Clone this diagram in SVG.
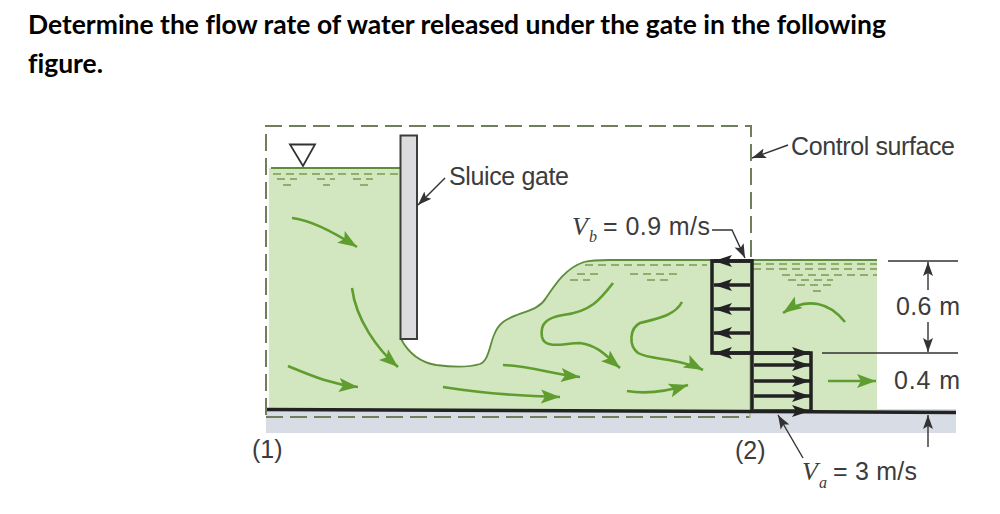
<svg xmlns="http://www.w3.org/2000/svg" width="1000" height="514" viewBox="0 0 1000 514">
<style>
.title{font:bold 26px Lato,"Liberation Sans",sans-serif;fill:#000;font-variant-ligatures:none}
.lab{font:25px "Liberation Sans",Arial,sans-serif;fill:#3c3c3c}
.it{font:italic 26px "Liberation Serif",serif;fill:#3c3c3c}
.sub{font:italic 16px "Liberation Serif",serif;fill:#3c3c3c}
.cs{fill:none;stroke:#6f7f5c;stroke-width:2;stroke-dasharray:17 7}
.flow{fill:none;stroke:#5f9d2e;stroke-width:2.6;marker-end:url(#g)}
.rip{fill:none;stroke:#7c9a52;stroke-width:1.400;stroke-dasharray:8 5}
.prof{fill:none;stroke:#222;stroke-width:3.500}
.pa{fill:none;stroke:#222;stroke-width:3.500;marker-end:url(#k)}
.thin{fill:none;stroke:#333;stroke-width:1.500}
.lead{fill:none;stroke:#333;stroke-width:1.400;marker-end:url(#l)}
</style>
<defs>
<marker id="g" markerUnits="userSpaceOnUse" markerWidth="22" markerHeight="16" refX="19" refY="8" orient="auto"><path d="M0 1L19 8L0 15L4 8Z" fill="#5f9d2e"/></marker>
<marker id="k" markerUnits="userSpaceOnUse" markerWidth="20" markerHeight="14" refX="18" refY="7" orient="auto"><path d="M0 1L18 7L0 13L4 7Z" fill="#222"/></marker>
<marker id="l" markerUnits="userSpaceOnUse" markerWidth="16" markerHeight="12" refX="14" refY="6" orient="auto"><path d="M0 1L14 6L0 11L3 6Z" fill="#333"/></marker>
</defs>
<rect width="1000" height="514" fill="#fff"/>
<text class="title" x="28" y="34" textLength="858" lengthAdjust="spacingAndGlyphs">Determine the flow rate of water released under the gate in the following</text>
<text class="title" x="28" y="73" textLength="75" lengthAdjust="spacingAndGlyphs">figure.</text>
<g id="ground"><rect x="266" y="409" width="690" height="24" fill="#d8dde5"/></g>
<g id="water">
<path d="M269 168H401V339C408 352 418 362 436 365C452 367 470 367 480 364C489 360 490 344 494 335C499 322 507 319 517 315C530 310 540 308 546 298C556 283 566 268 584 262C592 260 600 260 610 260H877V411L269 409Z" fill="#d2e6c0"/>
<path d="M271 168H401M401 339C408 352 418 362 436 365C452 367 470 367 480 364C489 360 490 344 494 335C499 322 507 319 517 315C530 310 540 308 546 298C556 283 566 268 584 262C592 260 600 260 610 260H877" fill="none" stroke="#5d8c3a" stroke-width="1.800"/>
<path class="rip" d="M273 174H398M277 179H297M317 179H335M353 179H373M283 185H292M323 185H330M360 185H368M585 265H707M577 274H603M630 274H677M570 280H590M647 280H668M753 264H877M753 269H877M782 275H877M788 280H833M797 285H833M813 291H823"/>
</g>
<g id="sluice-gate"><rect x="400.500" y="135.500" width="16.500" height="203.500" fill="#dcdcdf" stroke="#3a3f3a" stroke-width="2"/></g>
<g id="free-surface-symbol"><path d="M290 144.500H315L303 166Z" fill="#fff" stroke="#333" stroke-width="1.800"/></g>
<g id="control-surface"><path class="cs" d="M266 415V126H751V260"/><path class="cs" d="M266 417H750"/><path d="M750 350V418" fill="none" stroke="#a8c77c" stroke-width="1.500"/></g>
<g id="connectors">
<path class="flow" d="M292 218C312 220 335 233 357 247"/>
<path class="flow" d="M352 288C356 320 378 350 398 367"/>
<path class="flow" d="M288 366C310 375 330 384 358 387"/>
<path class="flow" d="M443 387C480 393 520 396 560 397"/>
<path class="flow" d="M503 365C530 366 552 374 580 377"/>
<path class="flow" d="M613 283C600 300 590 312 563 315C545 318 540 325 542 337C545 350 565 343 580 343C600 346 608 358 620 368"/>
<path class="flow" d="M682 302C675 315 660 318 640 323C630 328 628 345 638 353C650 360 680 358 703 370"/>
<path class="flow" d="M627 391C645 394 665 392 688 385"/>
<path class="flow" d="M845 322C830 303 808 296 783 313"/>
<path class="flow" d="M828 381H876"/>
<path class="prof" d="M752 261H712V353H752M752 259V411M752 353H811V411"/>
<path class="prof" d="M267 409.500L752 411.500L956 412.500"/>
<path class="pa" d="M750 261H714"/><path class="pa" d="M750 285H714"/><path class="pa" d="M750 309H714"/><path class="pa" d="M750 333H714"/><path class="pa" d="M750 353H714"/>
<path class="pa" d="M754 353H810"/><path class="pa" d="M754 365H810"/><path class="pa" d="M754 381H810"/><path class="pa" d="M754 396H810"/><path class="pa" d="M754 411H810"/>
<path class="thin" d="M888 261H958M822 353H958"/>
<path class="lead" d="M928 290V262"/><path class="lead" d="M928 322V352"/><path class="lead" d="M928 447V415"/>
<path class="lead" d="M445 178L418 205"/>
<path class="lead" d="M788 145L752 158"/>
<path class="lead" d="M712 230H732L745 258"/>
<path class="lead" d="M803 458L778 415"/>
</g>
<g id="labels">
<text class="lab" x="791" y="155" textLength="164">Control surface</text>
<text class="lab" x="449" y="185" textLength="120">Sluice gate</text>
<text class="it" x="572" y="235">V</text><text class="sub" x="589" y="242">b</text><text class="lab" x="603" y="235" textLength="107">= 0.9 m/s</text>
<text class="lab" x="896" y="315" textLength="64">0.6 m</text>
<text class="lab" x="894" y="389" textLength="66">0.4 m</text>
<text class="lab" x="252" y="458">(1)</text>
<text class="lab" x="735" y="459">(2)</text>
<text class="it" x="802" y="480">V</text><text class="sub" x="819" y="488">a</text><text class="lab" x="833" y="480" textLength="84">= 3 m/s</text>
</g>
</svg>
